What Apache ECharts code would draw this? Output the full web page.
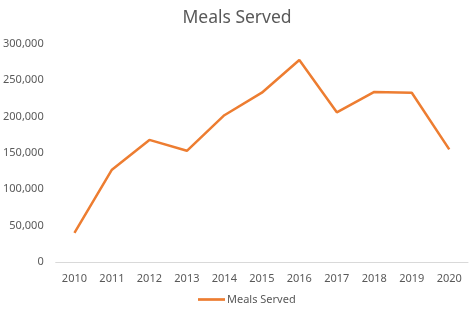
<!DOCTYPE html>
<html><head><meta charset="utf-8">
<script src="https://cdn.jsdelivr.net/npm/echarts@6/dist/echarts.min.js"></script>
<style>html,body{margin:0;padding:0;background:#fff}#c{width:474px;height:313px}</style>
</head><body><div id="c"></div>
<script>
const categories = ['2010','2011','2012','2013','2014','2015','2016','2017','2018','2019','2020'];
const mealsServed = [40000, 127000, 168000, 153000, 202000, 233000, 278000, 206000, 234000, 233000, 155000];
const yTicks = [0, 50000, 100000, 150000, 200000, 250000, 300000];

const chart = echarts.init(document.getElementById('c'), null, {renderer: 'canvas'});
const font = '"Noto Sans", "Open Sans", sans-serif';
chart.setOption({
  animation: false,
  title: {text: 'Meals Served', left: 'center', top: 4,
    textStyle: {fontFamily: font, fontSize: 17.5, fontWeight: 'normal', color: '#595959'}},
  legend: {bottom: 3, left: 193, icon: 'path://M0,0H30V3H0Z', itemWidth: 27, itemHeight: 3,
    textStyle: {fontFamily: font, fontSize: 11, color: '#595959', padding: [0, 0, 0, -3]}, data: ['Meals Served']},
  grid: {left: 55, right: 6, top: 44, bottom: 51, containLabel: false},
  xAxis: {type: 'category', data: categories, boundaryGap: true,
    axisLine: {lineStyle: {color: '#d9d9d9'}}, axisTick: {show: false},
    axisLabel: {fontFamily: font, fontSize: 11, color: '#595959', margin: 11}},
  yAxis: {type: 'value', min: yTicks[0], max: yTicks[yTicks.length-1], interval: 50000,
    splitLine: {show: false}, axisLine: {show: false}, axisTick: {show: false},
    axisLabel: {fontFamily: font, fontSize: 11, color: '#595959', margin: 12,
      formatter: v => v.toLocaleString('en-US')}},
  series: [{name: 'Meals Served', type: 'line', data: mealsServed, symbol: 'none',
    lineStyle: {color: '#ED7D31', width: 2.5}, itemStyle: {color: '#ED7D31'}}]
});
</script></body></html>
